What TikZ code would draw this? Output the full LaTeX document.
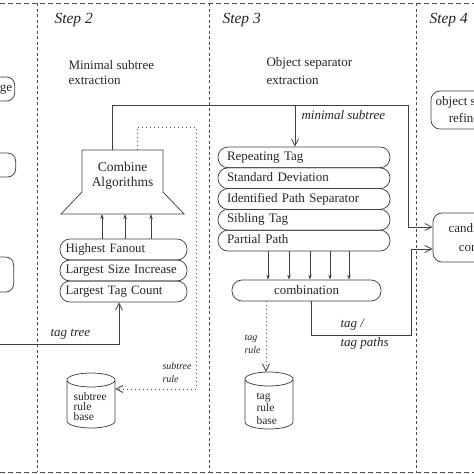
\documentclass[tikz,border=0pt]{standalone}
\usepackage{fontspec}
\setmainfont{Liberation Serif}
\usetikzlibrary{arrows.meta}
\begin{document}
\begin{tikzpicture}[x=1pt,y=-1pt,
  every node/.style={text=black!85},
  ln/.style={draw=black!75, line width=0.75pt},
  hframe/.style={draw=black!70, line width=0.75pt, dash pattern=on 5pt off 3pt},
  vframe/.style={draw=black!70, line width=0.75pt, dash pattern=on 3pt off 2.5pt},
  dots/.style={draw=black!70, line width=0.9pt, dash pattern=on 1pt off 3pt},
  arr/.style={ln, -{Straight Barb[length=7pt,width=7pt]}},
  darr/.style={dots, -{Straight Barb[length=7pt,width=7pt]}},
  sarr/.style={ln, -{Stealth[length=5pt,width=3.5pt]}},
  txt/.style={font=\fontsize{13}{15}\selectfont},
  itl/.style={font=\itshape\fontsize{13}{15}\selectfont},
  sitl/.style={font=\itshape\fontsize{10}{13}\selectfont},
  steplab/.style={font=\itshape\fontsize{15.5}{18}\selectfont, anchor=west},
  box/.style={ln, rounded corners=8pt, font=\fontsize{13}{17}\selectfont},
  rowtwo/.style={ln, rounded corners=10pt, minimum height=21pt, inner ysep=0pt,
    inner xsep=5.5pt, text width=116pt, align=left, text height=9pt, text depth=3pt,
    font=\fontsize{12.8}{15}\selectfont},
  rowthree/.style={ln, rounded corners=10pt, minimum height=20.8pt, inner ysep=0pt,
    inner xsep=9pt, text width=154pt, align=left, text height=9pt, text depth=3pt,
    font=\fontsize{13}{15}\selectfont},
  holder/.style={inner sep=0pt}
]
\useasboundingbox (0,0) rectangle (474,474);
\clip (0,0) rectangle (474,474);

% frame
\draw[hframe] (0,3) -- (474,3);
\draw[hframe] (0,472) -- (474,472);
\draw[vframe] (37,3) -- (37,472);
\draw[vframe] (209,3) -- (209,472);
\draw[vframe] (416,3) -- (416,472);

% step labels
\node[steplab] (s2) at (51,20) {Step 2};
\node[steplab] (s3) at (219,20) {Step 3};
\node[steplab] (s4) at (426,20) {Step 4};

% titles
\node[txt, align=left, anchor=west, font=\fontsize{13}{15}\selectfont] (t2) at (65,73) {Minimal subtree\\extraction};
\node[txt, align=left, anchor=west, font=\fontsize{13}{17.5}\selectfont] (t3) at (263,71) {Object separator\\extraction};

% step 1 (cut off at the left edge)
\node[box, anchor=east, minimum height=24pt, inner xsep=2.5pt] (hp) at (15,89) {HTML page};
\node[box, anchor=east, minimum height=24pt, minimum width=90pt] (b2) at (16,165) {};
\node[box, anchor=east, minimum height=35pt, minimum width=90pt] (b3) at (14,274.5) {};

% step 2
\draw[ln] (82,150) -- (163,150) -- (163,192) -- (184,214) -- (61,214) -- (82,192) -- cycle;
\coordinate (trT) at (122.5,150);
\coordinate (trB) at (122.5,214);
\node[align=center, font=\fontsize{13.5}{15}\selectfont] (ca) at (122.5,176) {Combine\\Algorithms};

\node[rowtwo] (hf) at (123.5,249.5) {Highest Fanout};
\node[rowtwo] (ls) at (123.5,270.5) {Largest Size Increase};
\node[rowtwo] (lt) at (123.5,291.5) {Largest Tag Count};

\coordinate (u1) at (102,0);
\coordinate (u2) at (125,0);
\coordinate (u3) at (151,0);
\draw[sarr] (u1 |- hf.north) -- (u1 |- trB);
\draw[sarr] (u2 |- hf.north) -- (u2 |- trB);
\draw[sarr] (u3 |- hf.north) -- (u3 |- trB);

% subtree rule base cylinder
\node[holder, minimum width=48pt, minimum height=55pt] (srb) at (91,400.5) {};
\draw[ln] (67,380) -- (67,421) arc[start angle=180,end angle=360,x radius=24pt,y radius=7pt]
  -- (115,380) arc[start angle=0,end angle=360,x radius=24pt,y radius=7pt];
\node[align=left, anchor=west, font=\fontsize{11.5}{10}\selectfont] (srbt) at (70,407) {subtree\\rule\\base};

% tag tree
\coordinate (ttS) at (-20,344);
\coordinate (tx) at (119,0);
\draw[arr] (ttS) -- (tx |- ttS) -- (tx |- lt.south);
\node[itl, anchor=west] (ttl) at (47,334) {tag tree};

% subtree rule dotted
\coordinate (d1) at (137,0);
\coordinate (d2) at (196,0);
\coordinate (dtop) at (0,127);
\coordinate (dy) at (0,389);
\draw[darr] (d1 |- trT) -- (d1 |- dtop) -- (d2 |- dtop) -- (d2 |- dy) -- (srb.east |- dy);
\node[sitl, align=left, anchor=west] (srl) at (159,373) {subtree\\rule};

% step 3
\node[rowthree] (r1) at (304,157.4) {Repeating Tag};
\node[rowthree] (r2) at (304,178.2) {Standard Deviation};
\node[rowthree] (r3) at (304,199) {Identified Path Separator};
\node[rowthree] (r4) at (304,219.8) {Sibling Tag};
\node[rowthree] (r5) at (304,240.6) {Partial Path};

\node[ln, rounded corners=10pt, minimum width=149pt, minimum height=21pt, inner sep=0pt,
  font=\fontsize{13}{15}\selectfont] (comb) at (306.5,290.5) {combination};

\foreach \xx [count=\i] in {268,289,310,330,349} {
  \coordinate (v\i) at (\xx,0);
  \draw[sarr] (v\i |- r5.south) -- (v\i |- comb.north);
}

% tag rule base cylinder
\node[holder, minimum width=48pt, minimum height=57pt] (trb) at (269,400.5) {};
\draw[ln] (245,379) -- (245,422) arc[start angle=180,end angle=360,x radius=24pt,y radius=7pt]
  -- (293,379) arc[start angle=0,end angle=360,x radius=24pt,y radius=7pt];
\node[align=left, anchor=west, font=\fontsize{11.5}{12.5}\selectfont] (trbt) at (253,408.5) {tag\\rule\\base};

\coordinate (dx) at (266,0);
\draw[darr] (dx |- comb.south) -- (dx |- trb.north);
\node[sitl, align=left, anchor=west] (trl) at (241,344) {tag\\rule};

% step 4 (cut off at the right edge)
\node[box, minimum width=92pt, minimum height=38pt, align=center, rounded corners=9pt] (osr) at (477,110) {object separator\\refinement};
\node[box, minimum width=116pt, minimum height=49pt, align=center, rounded corners=9pt,
  font=\fontsize{13}{19}\selectfont] (coc) at (491,237.5) {candidate object\\construction};

% minimal subtree path
\coordinate (top) at (0,105);
\coordinate (vx1) at (408,0);
\coordinate (y1) at (0,227);
\draw[arr] (trT -| 112,0) -- (112,105) -- (vx1 |- top) -- (vx1 |- y1) -- (coc.west |- y1);
\coordinate (ms) at (295,105);
\draw[arr] (ms) -- (ms |- r1.north);
\node[itl, anchor=west] (msl) at (298,115) {minimal subtree};

% tag / tag paths
\coordinate (cx) at (311,0);
\coordinate (tp) at (0,335);
\coordinate (vx2) at (411,0);
\coordinate (y2) at (0,249);
\draw[arr] (cx |- comb.south) -- (cx |- tp) -- (vx2 |- tp) -- (vx2 |- y2) -- (coc.west |- y2);
\node[itl, align=left, anchor=west, font=\itshape\fontsize{13}{19}\selectfont] (tpl) at (337,334.5) {tag /\\tag paths};
\end{tikzpicture}
\end{document}
